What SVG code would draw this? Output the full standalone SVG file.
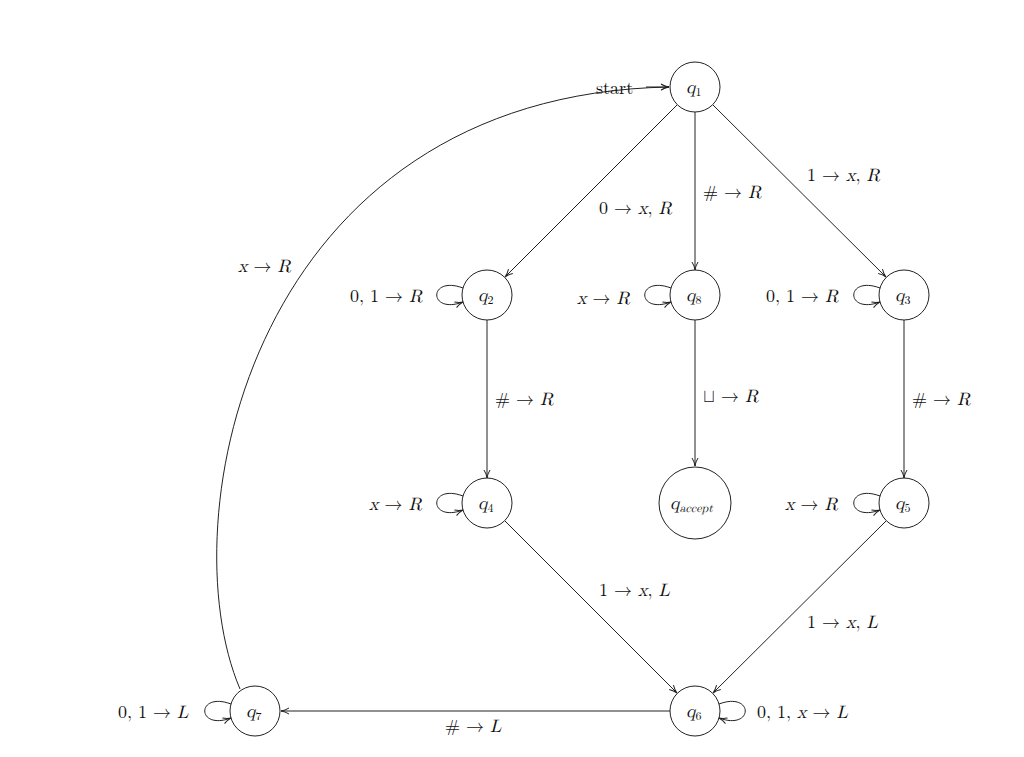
<svg xmlns="http://www.w3.org/2000/svg" width="1024" height="757" viewBox="0 0 1024 757">
<style>
.n{fill:#fff;stroke:#222;stroke-width:1}
.e{fill:none;stroke:#222;stroke-width:1;marker-end:url(#a)}
text{font-family:"Latin Modern Math","Liberation Serif",serif;font-size:18px;fill:#111}
.v{font-style:italic}
.s{font-size:12px}
</style>
<defs><marker id="a" markerWidth="10" markerHeight="8" refX="9" refY="4" orient="auto" markerUnits="userSpaceOnUse"><path d="M1,1 Q5,3.5 9,4 Q5,4.5 1,7" fill="none" stroke="#222"/></marker></defs>
<rect width="1024" height="757" fill="#fff"/>
<g id="connectors">
<path class="e" d="M646,87 H669"/>
<path class="e" d="M677,105 L505,277"/>
<path class="e" d="M695,112 V270"/>
<path class="e" d="M713,105 L886,277"/>
<path class="e" d="M487,320 V478"/>
<path class="e" d="M695,320 V466"/>
<path class="e" d="M904,320 V478"/>
<path class="e" d="M505,521 L677,693"/>
<path class="e" d="M886,521 L713,693"/>
<path class="e" d="M670,711 H281"/>
<path class="e" d="M240,689 C168,520 250,95 669,87"/>
<path class="e" d="M463,288 C428,275 428,315 463,302"/>
<path class="e" d="M671,288 C636,275 636,315 671,302"/>
<path class="e" d="M880,288 C845,275 845,315 880,302"/>
<path class="e" d="M463,496 C428,483 428,523 463,510"/>
<path class="e" d="M880,496 C845,483 845,523 880,510"/>
<path class="e" d="M231,704 C196,691 196,731 231,718"/>
<path class="e" d="M719,704 C754,691 754,731 719,718"/>
</g>
<text x="596" y="94">start</text>
<g id="q1"><circle class="n" cx="695" cy="87" r="25"/><text class="v" x="686" y="93">q<tspan class="s" font-style="normal" dy="3">1</tspan></text></g>
<g id="q2"><circle class="n" cx="487" cy="295" r="25"/><text class="v" x="478" y="301">q<tspan class="s" font-style="normal" dy="3">2</tspan></text></g>
<g id="q8"><circle class="n" cx="695" cy="295" r="25"/><text class="v" x="686" y="301">q<tspan class="s" font-style="normal" dy="3">8</tspan></text></g>
<g id="q3"><circle class="n" cx="904" cy="295" r="25"/><text class="v" x="895" y="301">q<tspan class="s" font-style="normal" dy="3">3</tspan></text></g>
<g id="q4"><circle class="n" cx="487" cy="503" r="25"/><text class="v" x="478" y="509">q<tspan class="s" font-style="normal" dy="3">4</tspan></text></g>
<g id="qaccept"><circle class="n" cx="695" cy="503" r="36"/><text class="v" x="670" y="509">q<tspan class="s" dy="3">accept</tspan></text></g>
<g id="q5"><circle class="n" cx="904" cy="503" r="25"/><text class="v" x="895" y="509">q<tspan class="s" font-style="normal" dy="3">5</tspan></text></g>
<g id="q6"><circle class="n" cx="695" cy="711" r="25"/><text class="v" x="686" y="717">q<tspan class="s" font-style="normal" dy="3">6</tspan></text></g>
<g id="q7"><circle class="n" cx="255" cy="711" r="25"/><text class="v" x="246" y="717">q<tspan class="s" font-style="normal" dy="3">7</tspan></text></g>
<g id="labels">
<text x="599" y="214">0 → <tspan class="v">x</tspan>, <tspan class="v">R</tspan></text>
<text x="703" y="198"># → <tspan class="v">R</tspan></text>
<text x="807" y="181">1 → <tspan class="v">x</tspan>, <tspan class="v">R</tspan></text>
<text x="238" y="272"><tspan class="v">x</tspan> → <tspan class="v">R</tspan></text>
<text x="350" y="302">0, 1 → <tspan class="v">R</tspan></text>
<text x="577" y="304"><tspan class="v">x</tspan> → <tspan class="v">R</tspan></text>
<text x="766" y="302">0, 1 → <tspan class="v">R</tspan></text>
<text x="495" y="405"># → <tspan class="v">R</tspan></text>
<text x="703" y="402">⊔ → <tspan class="v">R</tspan></text>
<text x="912" y="405"># → <tspan class="v">R</tspan></text>
<text x="369" y="510"><tspan class="v">x</tspan> → <tspan class="v">R</tspan></text>
<text x="785" y="510"><tspan class="v">x</tspan> → <tspan class="v">R</tspan></text>
<text x="599" y="596">1 → <tspan class="v">x</tspan>, <tspan class="v">L</tspan></text>
<text x="807" y="628">1 → <tspan class="v">x</tspan>, <tspan class="v">L</tspan></text>
<text x="118" y="718">0, 1 → <tspan class="v">L</tspan></text>
<text x="757" y="718">0, 1, <tspan class="v">x</tspan> → <tspan class="v">L</tspan></text>
<text x="445" y="732"># → <tspan class="v">L</tspan></text>
</g>
</svg>
